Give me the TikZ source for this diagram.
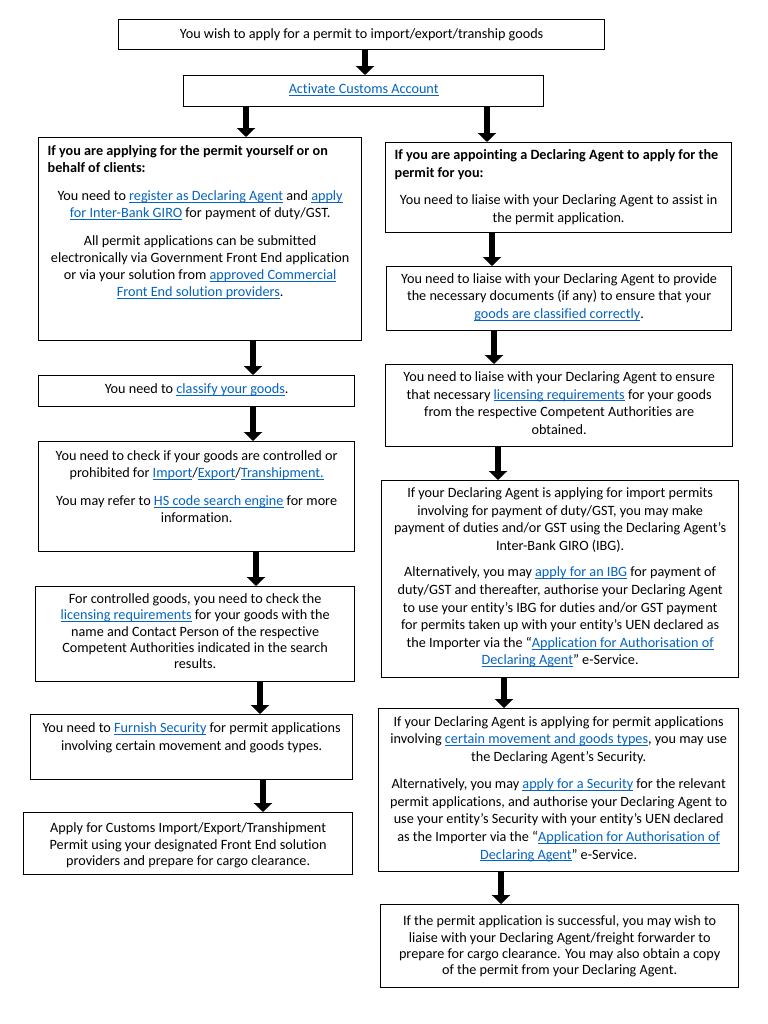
\documentclass[tikz,border=0pt]{standalone}
\usepackage{fontspec}
\setmainfont{Carlito}[Ligatures={NoCommon}]
\usetikzlibrary{arrows.meta}
\definecolor{linkblue}{RGB}{5,99,193}
\newcommand{\lnk}[1]{\leavevmode{\color{linkblue}\setbox0\hbox{#1}\rlap{\rule[-2.2bp]{\wd0}{0.9bp}}\box0}}
\newcommand{\bxt}[5]{\parbox[c][#2bp][t]{#1bp}{\fontsize{14.2bp}{#4bp}\selectfont\vspace*{#3bp}\centering\leftskip=4bp plus 1fil\rightskip=4bp plus 1fil\leavevmode\rule{0pt}{12bp}#5}}
\newcommand{\hdl}{\leftskip=9bp\rightskip=0pt plus 1fil }
\newcommand{\ctr}{\leftskip=4bp plus 1fil\rightskip=4bp plus 1fil }
\tikzset{
  box/.style={draw=black, line width=1.3bp, inner sep=0pt, anchor=north west, fill=white},
  arr/.style={line width=6bp, draw=black, -{Triangle[width=18bp,length=9bp]}}
}
\begin{document}
\begin{tikzpicture}[x=1bp,y=-1bp]
\fill[white] (0,0) rectangle (768,1024);
\useasboundingbox (0,0) rectangle (768,1024);

\node[box] (top) at (118,19) {\bxt{486}{30}{6.6}{17.5}{You wish to apply for a permit to import/export/tranship goods}};
\node[box] (act) at (183,75) {\bxt{360}{31}{5.6}{17.5}{\lnk{Activate Customs Account}}};

\node[box] (A) at (38,137) {\bxt{323}{203}{6.3}{17}{\hdl\textbf{If you are applying for the permit yourself or on}\\\textbf{behalf of clients:}\par\vspace{11bp}\ctr You need to \lnk{register as Declaring Agent} and \lnk{apply}\\\lnk{for Inter-Bank GIRO} for payment of duty/GST.\par\vspace{10.3bp}All permit applications can be submitted\\electronically via Government Front End application\\or via your solution from \lnk{approved Commercial}\\\lnk{Front End solution providers}.}};

\node[box] (L2) at (38,375) {\bxt{316}{31}{6.3}{17}{You need to \lnk{classify your goods}.}};

\node[box] (L3) at (38,441) {\bxt{316}{110}{6.9}{17.2}{You need to check if your goods are controlled or\\prohibited for \lnk{Import}/\lnk{Export}/\lnk{Transhipment.}\par\vspace{10.4bp}You may refer to \lnk{HS code search engine} for more\\information.}};

\node[box] (L4) at (35,586) {\bxt{319}{95}{4.9}{16.35}{For controlled goods, you need to check the\\\lnk{licensing requirements} for your goods with the\\name and Contact Person of the respective\\Competent Authorities indicated in the search\\results.}};

\node[box] (L5) at (30,714) {\bxt{322}{65}{5.9}{18.4}{You need to \lnk{Furnish Security} for permit applications\\involving certain movement and goods types.}};

\node[box] (L6) at (23,812) {\bxt{329}{62}{7.9}{16.7}{Apply for Customs Import/Export/Transhipment\\Permit using your designated Front End solution\\providers and prepare for cargo clearance.}};

\node[box] (B) at (385,142) {\bxt{346}{90}{5.3}{18}{\hdl\textbf{If you are appointing a Declaring Agent to apply for the}\\\textbf{permit for you:}\par\vspace{8.6bp}\ctr You need to liaise with your Declaring Agent to assist in\\the permit application.}};

\node[box] (C) at (386,266) {\bxt{345}{64}{4.6}{17.7}{You need to liaise with your Declaring Agent to provide\\the necessary documents (if any) to ensure that your\\\lnk{goods are classified correctly}.}};

\node[box] (D) at (385,364) {\bxt{347}{82}{4.6}{17.8}{You need to liaise with your Declaring Agent to ensure\\that necessary \lnk{licensing requirements} for your goods\\from the respective Competent Authorities are\\obtained.}};

\node[box] (E) at (381,480) {\bxt{357}{197}{4.9}{17.6}{If your Declaring Agent is applying for import permits\\involving for payment of duty/GST, you may make\\payment of duties and/or GST using the Declaring Agent’s\\Inter-Bank GIRO (IBG).\par\vspace{9bp}Alternatively, you may \lnk{apply for an IBG} for payment of\\duty/GST and thereafter, authorise your Declaring Agent\\to use your entity’s IBG for duties and/or GST payment\\for permits taken up with your entity’s UEN declared as\\the Importer via the “\lnk{Application for Authorisation of}\\\lnk{Declaring Agent}” e-Service.}};

\node[box] (F) at (378,708) {\bxt{360}{163}{5.6}{17.7}{If your Declaring Agent is applying for permit applications\\involving \lnk{certain movement and goods types}, you may use\\the Declaring Agent’s Security.\par\vspace{9bp}Alternatively, you may \lnk{apply for a Security} for the relevant\\permit applications, and authorise your Declaring Agent to\\use your entity’s Security with your entity’s UEN declared\\as the Importer via the “\lnk{Application for Authorisation of}\\\lnk{Declaring Agent}” e-Service.}};

\node[box] (G) at (380,904) {\bxt{358}{83}{9.3}{16.2}{If the permit application is successful, you may wish to\\liaise with your Declaring Agent/freight forwarder to\\prepare for cargo clearance. You may also obtain a copy\\of the permit from your Declaring Agent.}};

\draw[arr] (top.south -| 365,0) -- (act.north -| 365,0);
\draw[arr] (act.south -| 246,0) -- (A.north -| 246,0);
\draw[arr] (act.south -| 487,0) -- (B.north -| 487,0);
\draw[arr] (A.south -| 253,0) -- (L2.north -| 253,0);
\draw[arr] (L2.south -| 253,0) -- (L3.north -| 253,0);
\draw[arr] (L3.south -| 256,0) -- (L4.north -| 256,0);
\draw[arr] (L4.south -| 260,0) -- (L5.north -| 260,0);
\draw[arr] (L5.south -| 263,0) -- (L6.north -| 263,0);
\draw[arr] (B.south -| 492,0) -- (C.north -| 492,0);
\draw[arr] (C.south -| 494,0) -- (D.north -| 494,0);
\draw[arr] (D.south -| 498,0) -- (E.north -| 498,0);
\draw[arr] (E.south -| 504,0) -- (F.north -| 504,0);
\draw[arr] (F.south -| 501,0) -- (G.north -| 501,0);
\end{tikzpicture}
\end{document}
